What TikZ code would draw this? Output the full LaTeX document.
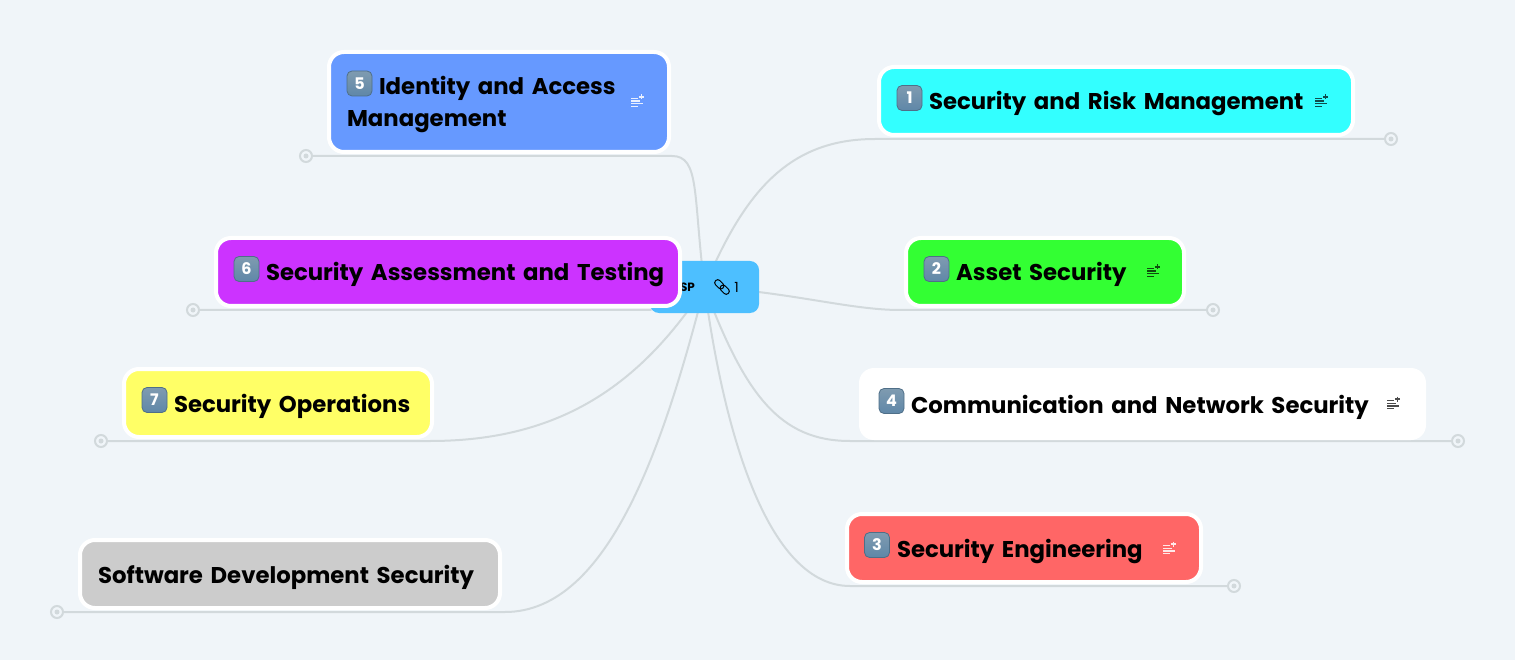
\documentclass[tikz,border=0pt]{standalone}
\usepackage{fontspec}
\setmainfont{Poppins}
\usetikzlibrary{positioning,backgrounds}

\definecolor{pagebg}{HTML}{F0F5F9}
\definecolor{hubblue}{HTML}{4DBFFF}
\definecolor{linkgrey}{HTML}{D2D9DC}
\definecolor{keytop}{HTML}{7F9BB0}
\definecolor{keybot}{HTML}{5F87A8}
\definecolor{keyrim}{HTML}{4F6F88}

\tikzset{
  topicbox/.style={draw=white,line width=4pt,rounded corners=15pt,inner ysep=0pt,inner xsep=18pt,
    align=left,font=\fontsize{22.8}{32}\selectfont\bfseries,text=black,text height=24pt,text depth=6pt},
  keybox/.style={top color=keytop,bottom color=keybot,draw=keyrim,line width=.8pt,rounded corners=5pt,
    minimum size=25pt,inner sep=0pt,text=white,font=\fontsize{16}{16}\selectfont\bfseries},
  endcirc/.style={circle,draw=linkgrey,line width=2pt,fill=pagebg,minimum size=12pt,inner sep=0pt,
    path picture={\fill[linkgrey] (path picture bounding box.center) circle (2.5pt);}},
  branch/.style={draw=linkgrey,line width=2pt},
  notes/.pic={
    \draw[line width=1.2pt,pic actions] (-6,-2.7) -- (1,-2.7) (-6,.1) -- (3,.1) (-6,2.9) -- (6,2.9) (-6,5.7) -- (1,5.7);
    \draw[line width=1.1pt,pic actions] (4.5,-6.5) -- (4.5,-1.5) (2,-4) -- (7,-4);
  },
  chainlink/.pic={
    \begin{scope}[rotate=-45]
      \draw[line width=1pt,rounded corners=2.8pt] (-9,-3) rectangle (1.4,3);
      \draw[line width=1pt,rounded corners=2.8pt] (-1.4,-3) rectangle (9,3);
    \end{scope}
  }
}

\begin{document}
\begin{tikzpicture}[x=1pt,y=-1pt]
  \useasboundingbox (0,0) rectangle (1515,660);

  \node[fill=hubblue,rounded corners=9pt,minimum width=109pt,minimum height=52pt,inner sep=0pt] (hub) at (704.5,287) {};
  \node[font=\fontsize{12}{12}\selectfont\bfseries,anchor=east] (hubname) at (698.5,287) {SP};
  \pic at (722,287) {chainlink};
  \node[font=\fontsize{14}{14}\selectfont] (hubcount) at (736.5,287) {1};

  \node[topicbox,fill={rgb,255:red,102;green,153;blue,255},minimum height=100pt,text width=304pt,text height=20pt,text depth=34pt] (identity) at (499,102)
    {\mbox{\hspace*{32pt}Identity and Access}\\\mbox{Management}};
  \node[topicbox,fill={rgb,255:red,51;green,255;blue,255},minimum height=68pt,text width=438pt] (risk) at (1116,101)
    {\mbox{\hspace*{32pt}Security and Risk Management}};
  \node[topicbox,fill={rgb,255:red,51;green,255;blue,51},minimum height=68pt,text width=242pt] (asset) at (1045,272)
    {\mbox{\hspace*{32pt}Asset Security}};
  \node[topicbox,fill={rgb,255:red,204;green,51;blue,255},minimum height=68pt,text width=428pt] (testing) at (448,272)
    {\mbox{\hspace*{32pt}Security Assessment and Testing}};
  \node[topicbox,fill={rgb,255:red,255;green,255;blue,102},minimum height=68pt,text width=272pt] (operations) at (278,403)
    {\mbox{\hspace*{32pt}Security Operations}};
  \node[topicbox,fill=white,draw=none,minimum height=72pt,inner xsep=20pt,text width=527pt] (network) at (1142.5,404)
    {\mbox{\hspace*{32pt}Communication and Network Security}};
  \node[topicbox,fill={rgb,255:red,255;green,102;blue,102},minimum height=68pt,text width=318pt] (engineering) at (1024,548)
    {\mbox{\hspace*{32pt}Security Engineering}};
  \node[topicbox,fill={rgb,255:red,204;green,204;blue,204},minimum height=68pt,text width=384pt] (software) at (290,574)
    {\mbox{Software Development Security}};

  \node[keybox] (key5) at (359.5,83.5) {5};
  \node[keybox] (key1) at (909.5,98) {1};
  \node[keybox] (key2) at (936.5,269) {2};
  \node[keybox] (key6) at (246.5,269) {6};
  \node[keybox] (key7) at (154.5,400) {7};
  \node[keybox] (key4) at (891.5,401) {4};
  \node[keybox] (key3) at (877,545) {3};

  \pic[draw=white,draw opacity=.85] at (637,101) {notes};
  \pic[draw=black,draw opacity=.7] at (1321,101) {notes};
  \pic[draw=black,draw opacity=.7] at (1153,271) {notes};
  \pic[draw=black,draw opacity=.7] at (1393,403) {notes};
  \pic[draw=white,draw opacity=.85] at (1169,548) {notes};

  \node[endcirc] (end5) at (306,156) {};
  \node[endcirc] (end1) at (1391,139) {};
  \node[endcirc] (end2) at (1213,310) {};
  \node[endcirc] (end6) at (193,310) {};
  \node[endcirc] (end7) at (101,441) {};
  \node[endcirc] (end4) at (1458,441) {};
  \node[endcirc] (end3) at (1234,586) {};
  \node[endcirc] (endsw) at (57,612) {};

  \begin{scope}[on background layer]
    \fill[pagebg] (0,0) rectangle (1515,660);
    \draw[branch] (hub.center) .. controls (693,195) and (700,156) .. (672,156) -- (end5);
    \draw[branch] (hub.center) .. controls (745,190) and (790,139) .. (875,139) -- (end1);
    \draw[branch] (hub.center) .. controls (790,292) and (850,310) .. (900,310) -- (end2);
    \draw[branch] (hub.center) -- (650,310) -- (end6);
    \draw[branch] (hub.center) .. controls (640,385) and (560,441) .. (430,441) -- (end7);
    \draw[branch] (hub.center) .. controls (745,395) and (780,441) .. (850,441) -- (end4);
    \draw[branch] (hub.center) .. controls (725,440) and (770,586) .. (850,586) -- (end3);
    \draw[branch] (hub.center) .. controls (665,440) and (610,612) .. (505,612) -- (endsw);
  \end{scope}
\end{tikzpicture}
\end{document}
